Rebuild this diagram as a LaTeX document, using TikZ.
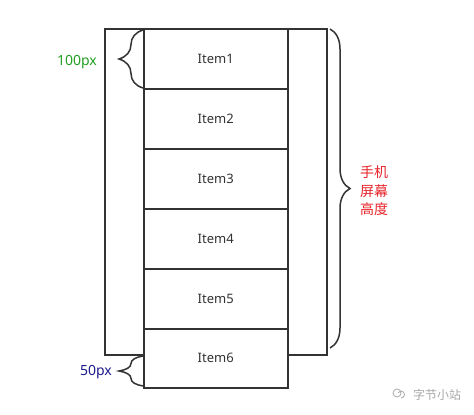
\documentclass[tikz,border=0pt]{standalone}
\usepackage{fontspec}
\setmainfont{Noto Sans}
\newfontfamily\cjk{Noto Sans CJK SC}
\usetikzlibrary{decorations.pathreplacing}
\definecolor{linec}{HTML}{333333}
\definecolor{greenc}{HTML}{22A022}
\definecolor{bluec}{HTML}{1C1C8C}
\definecolor{redc}{HTML}{E8232A}
\definecolor{markc}{HTML}{A8A8A8}
\begin{document}
\begin{tikzpicture}[x=1pt,y=-1pt,
  box/.style={draw=linec, line width=1.5pt, inner sep=0pt, anchor=north west},
  itembox/.style={box, fill=white, minimum width=144pt, minimum height=60pt,
    font=\fontsize{13}{15}\selectfont, text=linec},
  bracel/.style={draw=linec, line width=1.5pt, decorate,
    decoration={brace, amplitude=#1}},
  lbl/.style={inner sep=0pt, font=\fontsize{14}{16}\selectfont}]
\useasboundingbox (0,0) rectangle (474,415);
\fill[white] (0,0) rectangle (474,415);
% phone screen
\node[box, minimum width=222pt, minimum height=326pt] (phone) at (104,28) {};
% items
\node[itembox] (item1) at (143,28) {Item1};
\node[itembox] (item2) at (143,88) {Item2};
\node[itembox] (item3) at (143,148) {Item3};
\node[itembox] (item4) at (143,208) {Item4};
\node[itembox] (item5) at (143,268) {Item5};
\node[itembox, minimum height=59pt] (item6) at (143,328) {Item6};
% brace coordinates
\coordinate (b1a) at (143,30);
\coordinate (b1b) at (143,88);
\coordinate (b2a) at (143,356);
\coordinate (b2b) at (143,386);
\coordinate (b3a) at (330,29);
\coordinate (b3b) at (330,348);
\draw[bracel=24pt] (b1b) -- (b1a);
\draw[bracel=24pt] (b2b) -- (b2a);
\draw[bracel=20pt] (b3a) -- (b3b);
% labels
\node[lbl, text=greenc, anchor=east] (l100) at (97,62) {100px};
\node[lbl, text=bluec, anchor=east] (l50) at (112,372) {50px};
\node[lbl, text=redc, anchor=west, align=left,
  font=\cjk\fontsize{14}{18.5}\selectfont] (lscreen) at (360,191) {手机\\屏幕\\高度};
% watermark
\node[inner sep=0pt, anchor=west, text=markc, font=\cjk\fontsize{12}{14}\selectfont] (wm) at (413,395) {字节小站};
\draw[markc, line width=0.8pt] (397,393) circle[radius=4pt];
\draw[markc, line width=0.8pt] (401,398) arc[start angle=-90, end angle=150, radius=3.5pt];
\end{tikzpicture}
\end{document}
